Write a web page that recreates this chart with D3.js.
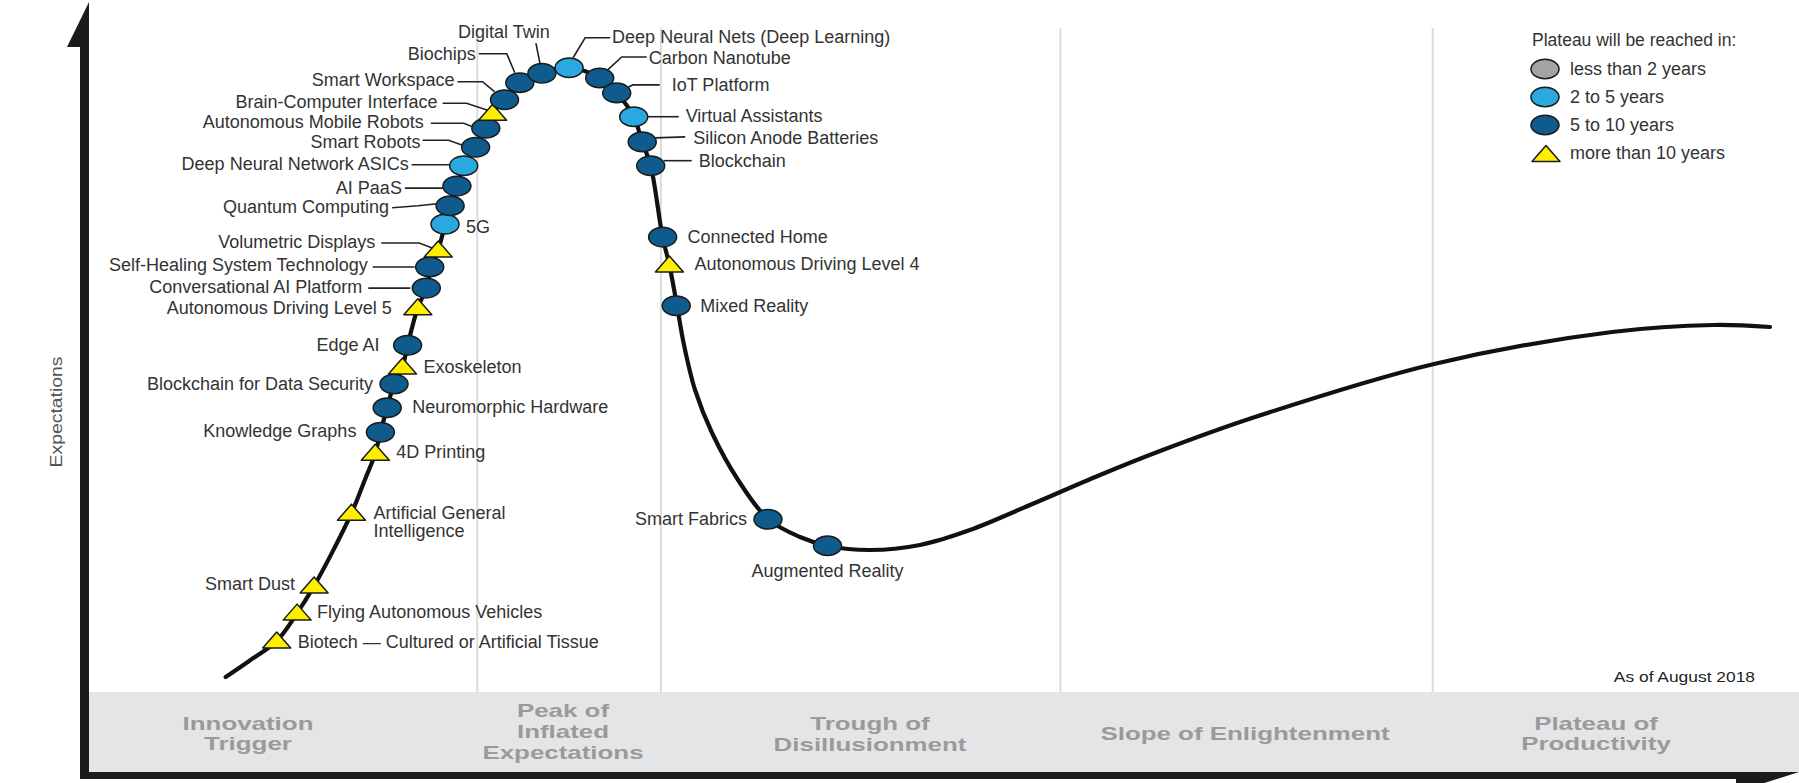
<!DOCTYPE html>
<html><head><meta charset="utf-8">
<script src="https://cdn.jsdelivr.net/npm/d3@7"></script>
<style>
html,body{margin:0;padding:0;background:#fff;}
svg{display:block;font-family:"Liberation Sans",Arial,Helvetica,sans-serif;}
</style>
</head><body>
<svg id="chart" width="1799" height="783"></svg>
<script>
// ---------------- DATA ----------------
const phaseNames = [
  ["Innovation","Trigger"],
  ["Peak of","Inflated","Expectations"],
  ["Trough of","Disillusionment"],
  ["Slope of Enlightenment"],
  ["Plateau of","Productivity"]
];
const phaseDividers = [22.9, 33.7, 57.2, 79.1];

const curveX = [8.1, 9.5, 11.1, 12.3, 13.3, 14.5, 15.5, 16.3, 16.9, 17.2, 17.6, 18.0, 18.5, 18.8, 19.4, 19.9, 20.2, 20.6, 21.0, 21.3, 21.7, 22.1, 22.8, 23.4, 23.8, 24.5, 25.4, 26.7, 28.3, 30.1, 31.1, 32.1, 32.6, 33.1, 33.8, 34.2, 34.65, 35.06, 35.71, 36.71, 38.24, 40.0, 41.88, 43.53, 46.0, 48.94, 51.88, 55.41, 59.53, 63.06, 68.65, 79.18, 89.65, 95.65, 98.94];
const curveY = [2.2, 4.6, 7.5, 11.6, 15.6, 21.2, 26.3, 31.3, 35.1, 38.2, 41.8, 45.3, 47.8, 51.0, 56.5, 59.4, 62.5, 65.0, 68.7, 71.5, 74.4, 77.4, 80.1, 82.9, 85.1, 87.2, 89.4, 91.0, 91.8, 90.3, 88.1, 84.6, 80.9, 77.4, 66.9, 62.8, 56.76, 51.03, 44.41, 38.09, 31.18, 25.44, 22.79, 21.47, 20.88, 21.62, 23.82, 27.5, 31.91, 35.44, 40.44, 48.24, 52.94, 53.97, 53.68];

const techNames = [
  "Biotech — Cultured or Artificial Tissue", "Flying Autonomous Vehicles", "Smart Dust",
  "Artificial General Intelligence", "4D Printing", "Knowledge Graphs", "Neuromorphic Hardware",
  "Blockchain for Data Security", "Exoskeleton", "Edge AI", "Autonomous Driving Level 5",
  "Conversational AI Platform", "Self-Healing System Technology", "Volumetric Displays", "5G",
  "Quantum Computing", "AI PaaS", "Deep Neural Network ASICs", "Smart Robots",
  "Autonomous Mobile Robots", "Brain-Computer Interface", "Smart Workspace", "Biochips",
  "Digital Twin", "Deep Neural Nets (Deep Learning)", "Carbon Nanotube", "IoT Platform",
  "Virtual Assistants", "Silicon Anode Batteries", "Blockchain", "Connected Home",
  "Autonomous Driving Level 4", "Mixed Reality", "Smart Fabrics", "Augmented Reality"
];
const techX = [11.1, 12.3, 13.3, 15.5, 16.9, 17.2, 17.6, 18.0, 18.5, 18.8, 19.4, 19.9, 20.1, 20.6, 21.0, 21.3, 21.7, 22.1, 22.8, 23.4, 23.8, 24.5, 25.4, 26.7, 28.3, 30.1, 31.1, 32.1, 32.6, 33.1, 33.8, 34.2, 34.6, 40.0, 43.5];
const techY = [7.5, 11.6, 15.6, 26.3, 35.1, 38.2, 41.8, 45.3, 47.8, 51.0, 56.5, 59.4, 62.5, 65.0, 68.8, 71.5, 74.4, 77.4, 80.1, 82.9, 85.1, 87.1, 89.6, 91.0, 91.8, 90.3, 88.1, 84.6, 80.9, 77.4, 66.9, 62.8, 56.8, 25.4, 21.5];
const techPlateau = ["10+","10+","10+","10+","10+","5-10","5-10","5-10","10+","5-10","10+","5-10","5-10","10+","2-5","5-10","5-10","2-5","5-10","5-10","10+","5-10","5-10","5-10","2-5","5-10","5-10","2-5","5-10","5-10","5-10","10+","5-10","5-10","5-10"];

const legendKeys = ["<2","2-5","5-10","10+"];
const legendLabels = ["less than 2 years","2 to 5 years","5 to 10 years","more than 10 years"];
const legendTitle = "Plateau will be reached in:";
const yAxisLabel = "Expectations";
const dateNote = "As of August 2018";

// ---------------- LAYOUT (annotation placement, px offsets from marker) ----------------
const labelLayout = [
  {dx:21,dy:7,a:"start"}, {dx:20,dy:5,a:"start"}, {dx:-19,dy:4,a:"end"},
  {dx:22,dy:6,a:"start",lines:["Artificial General","Intelligence"]},
  {dx:21,dy:5,a:"start"}, {dx:-24,dy:5,a:"end"}, {dx:25,dy:5,a:"start"},
  {dx:-21,dy:6,a:"end"}, {dx:21,dy:6,a:"start"}, {dx:-28,dy:6,a:"end"},
  {dx:-26,dy:6,a:"end"},
  {dx:-64,dy:5,a:"end",lead:[[-58,0],[-16,0]]},
  {dx:-62,dy:4,a:"end",lead:[[-57,0],[-15,0]]},
  {dx:-63,dy:-2,a:"end",lead:[[-57,-7],[-19,-7],[-6,-2]]},
  {dx:21,dy:9,a:"start"},
  {dx:-61,dy:7,a:"end",lead:[[-58,2],[-32,0],[-13,-2]]},
  {dx:-55,dy:8,a:"end",lead:[[-52,2],[-14,2]]},
  {dx:-55,dy:4,a:"end",lead:[[-52,-1],[-14,-1]]},
  {dx:-55,dy:1,a:"end",lead:[[-53,-7],[-27,-7],[-13,-2]]},
  {dx:-62,dy:0,a:"end",lead:[[-55,-5],[-22,-5],[-12,-1]]},
  {dx:-55,dy:-5,a:"end",lead:[[-50,-10],[-26,-10],[-5,-3]]},
  {dx:-50,dy:-14,a:"end",lead:[[-47,-18],[-22,-18],[-10,-8]]},
  {dx:-44,dy:-23,a:"end",lead:[[-41,-29],[-13,-29],[-5,-10]]},
  {dx:-38,dy:-35,a:"middle",lead:[[-6,-30],[-2,-10]]},
  {dx:43,dy:-25,a:"start",lead:[[41,-30],[16,-30],[4,-10]]},
  {dx:49,dy:-14,a:"start",lead:[[47,-21],[22,-21],[8,-8]]},
  {dx:55,dy:-2,a:"start",lead:[[43,-8],[16,-8],[10,-5]]},
  {dx:52,dy:5,a:"start",lead:[[45,0],[14,0]]},
  {dx:51,dy:2,a:"start",lead:[[43,-5],[13,-4]]},
  {dx:48,dy:1,a:"start",lead:[[41,-5],[13,-5]]},
  {dx:25,dy:6,a:"start"}, {dx:25,dy:5,a:"start"}, {dx:24,dy:6,a:"start"},
  {dx:-21,dy:6,a:"end"}, {dx:0,dy:31,a:"middle"}
];
const phaseCenters = [248, 563, 870, 1245, 1596];
const phaseBaselines = [[730,750],[717,738,759],[730,751],[740],[730,750]];

// ---------------- DRAW ----------------
const svg = d3.select("#chart");
const x = d3.scaleLinear().domain([0,100]).range([88,1788]);
const y = d3.scaleLinear().domain([0,100]).range([692,12]);
const colors = {"<2":"#a3a3a3","2-5":"#2aa8e0","5-10":"#0f5b8d","10+":"#ffee00"};
const stroke = "#1b1b1b";
const textCol = "#333";

// grey phase band
svg.append("rect").attr("x",85).attr("y",692).attr("width",1714).attr("height",80).attr("fill","#e4e5e7");

// dividers
svg.selectAll("line.div").data(phaseDividers).join("line")
  .attr("x1",d=>x(d)).attr("x2",d=>x(d)).attr("y1",28).attr("y2",692)
  .attr("stroke","#dcdcdc").attr("stroke-width",2);

// phase labels
phaseNames.forEach((lines,i)=>{
  lines.forEach((t,j)=>{
    svg.append("text").text(t)
      .attr("transform",`translate(${phaseCenters[i]},${phaseBaselines[i][j]}) scale(1.4,1)`)
      .attr("text-anchor","middle").attr("font-weight","bold").attr("font-size",18.5)
      .attr("fill","#9a9a9a");
  });
});

// axes
svg.append("rect").attr("x",80).attr("y",46).attr("width",9).attr("height",733).attr("fill",stroke);
svg.append("path").attr("d","M89,2 L89,47 L67,47 Z").attr("fill",stroke);
svg.append("rect").attr("x",80).attr("y",772).attr("width",1660).attr("height",7).attr("fill",stroke);
svg.append("path").attr("d","M1736,772 L1799,772 L1736,792 Z").attr("fill",stroke);

// y label
svg.append("text").text(yAxisLabel)
  .attr("transform","translate(62,412) rotate(-90) scale(1.14,1)")
  .attr("text-anchor","middle").attr("font-size",17).attr("fill","#555");

// date note
svg.append("text").text(dateNote)
  .attr("transform","translate(1755,682) scale(1.16,1)")
  .attr("text-anchor","end").attr("font-size",15).attr("fill","#222");

// curve
const curvePts = curveX.map((v,i)=>[v,curveY[i]]);
svg.append("path").datum(curvePts)
  .attr("d", d3.line().x(d=>x(d[0])).y(d=>y(d[1])).curve(d3.curveCatmullRom.alpha(0.5)))
  .attr("fill","none").attr("stroke","#111").attr("stroke-width",4.2).attr("stroke-linecap","round");

const techs = techNames.map((n,i)=>({name:n,x:techX[i],y:techY[i],k:techPlateau[i],L:labelLayout[i]}));

// leader lines
techs.filter(d=>d.L.lead).forEach(d=>{
  const px=x(d.x), py=y(d.y);
  svg.append("path")
    .attr("d", d3.line()(d.L.lead.map(p=>[px+p[0],py+p[1]])))
    .attr("fill","none").attr("stroke","#222").attr("stroke-width",1.6);
});

// markers
const triPath = "M-14,7 L0,-9 L14,7 Z";
techs.forEach(d=>{
  const px=x(d.x), py=y(d.y);
  if(d.k==="10+"){
    svg.append("path").attr("d",triPath).attr("transform",`translate(${px},${py})`)
      .attr("fill",colors[d.k]).attr("stroke",stroke).attr("stroke-width",1.5).attr("stroke-linejoin","round");
  } else {
    svg.append("ellipse").attr("cx",px).attr("cy",py).attr("rx",14).attr("ry",9.8)
      .attr("fill",colors[d.k]).attr("stroke",stroke).attr("stroke-width",1.5);
  }
});

// labels
techs.forEach(d=>{
  const px=x(d.x), py=y(d.y);
  const lines = d.L.lines || [d.name];
  lines.forEach((t,j)=>{
    svg.append("text").text(t)
      .attr("x",px+d.L.dx).attr("y",py+d.L.dy+j*18)
      .attr("text-anchor",d.L.a).attr("font-size",18).attr("fill",textCol);
  });
});

// legend
const lg = svg.append("g");
lg.append("text").text(legendTitle).attr("x",1532).attr("y",46).attr("font-size",17.5).attr("fill",textCol);
legendKeys.forEach((k,i)=>{
  const cy = 69 + i*28;
  if(k==="10+"){
    lg.append("path").attr("d",triPath).attr("transform",`translate(1546,${cy+1.5})`)
      .attr("fill",colors[k]).attr("stroke",stroke).attr("stroke-width",1.5).attr("stroke-linejoin","round");
  } else {
    lg.append("ellipse").attr("cx",1545).attr("cy",cy).attr("rx",14).attr("ry",9.8)
      .attr("fill",colors[k]).attr("stroke",stroke).attr("stroke-width",1.5);
  }
  lg.append("text").text(legendLabels[i]).attr("x",1570).attr("y",cy+6).attr("font-size",18).attr("fill",textCol);
});
</script>
</body></html>
